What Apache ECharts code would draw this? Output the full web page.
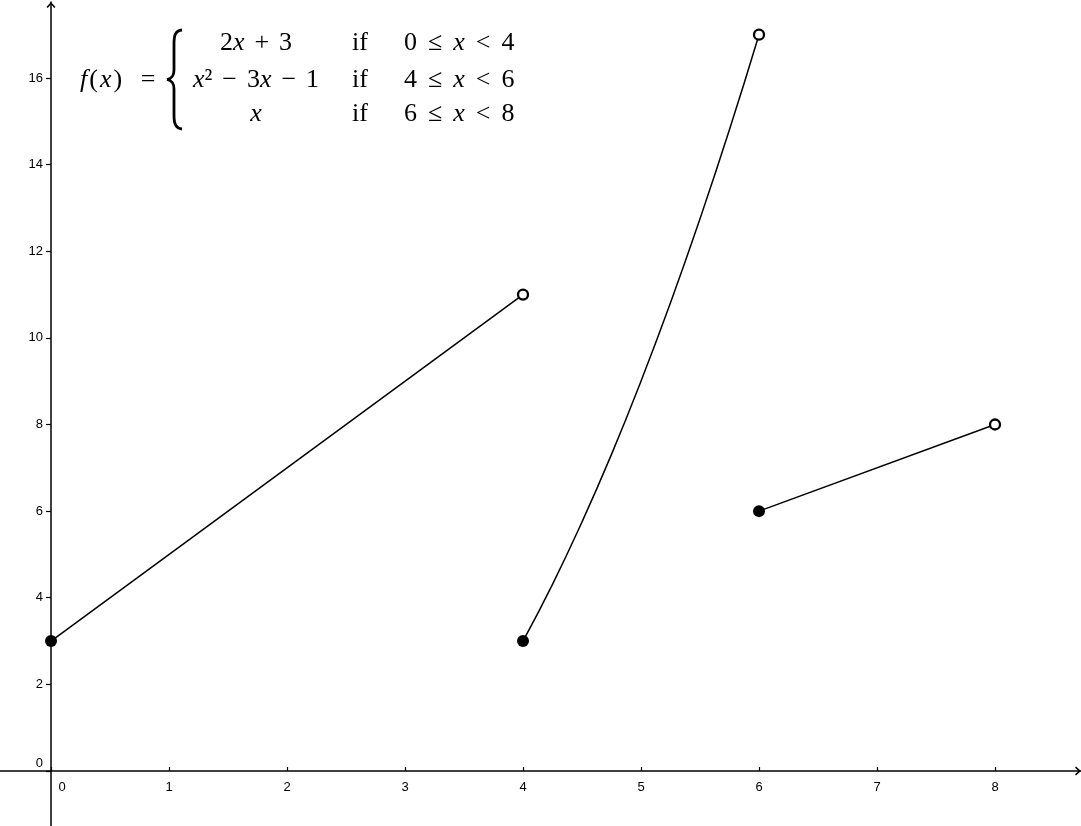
<!DOCTYPE html>
<html>
<head>
<meta charset="utf-8">
<script src="https://cdn.jsdelivr.net/npm/echarts@6/dist/echarts.min.js"></script>
<style>
html,body{margin:0;padding:0;background:#fff;}
#main{width:1081px;height:826px;}
</style>
</head>
<body>
<div id="main"></div>
<script>
// ---- data ----
const seg1X = [0, 4];
const seg1Y = [3, 11];
const curveX = [4, 4.25, 4.5, 4.75, 5, 5.25, 5.5, 5.75, 6];
const curveY = [3, 4.31, 5.75, 7.31, 9, 10.81, 12.75, 14.81, 17];
const seg3X = [6, 8];
const seg3Y = [6, 8];
const closedX = [0, 4, 6];
const closedY = [3, 3, 6];
const openX = [4, 6, 8];
const openY = [11, 17, 8];
const xTicks = [0, 1, 2, 3, 4, 5, 6, 7, 8];
const yTicks = [0, 2, 4, 6, 8, 10, 12, 14, 16];

const pairs = (xs, ys) => xs.map((x, i) => [x, ys[i]]);

const arrowPath = 'path://M0,5 L4.5,0 L9,5 L7.8,6 L4.5,2.3 L1.2,6 Z';
const sans = 'Liberation Sans';
const labelSize = 13;
const serif = 'Liberation Serif';
const fs = 26;
const rich = {
  i: { fontFamily: serif, fontStyle: 'italic', fontSize: fs, fill: '#000', color: '#000' },
  n: { fontFamily: serif, fontSize: fs, fill: '#000', color: '#000' },
  p: { fontFamily: serif, fontSize: fs, fill: '#000', color: '#000', padding: [0, 2, 0, 2] },
  b: { fontFamily: serif, fontSize: fs, fill: '#000', color: '#000', padding: [0, 10, 0, 10] },
  r: { fontFamily: serif, fontSize: fs, fill: '#000', color: '#000', padding: [0, 11, 0, 11] }
};
function tx(x, y, text, align) {
  return {
    type: 'text', x: x, y: y, z: 10,
    style: {
      text: text, rich: rich, fill: '#000',
      font: fs + 'px "' + serif + '"',
      align: align, verticalAlign: 'middle'
    }
  };
}
function lab(x, y, text, align, valign) {
  return {
    type: 'text', x: x, y: y, z: 10, silent: true,
    style: { text: text, fill: '#000', font: labelSize + 'px "' + sans + '"', align: align, verticalAlign: valign }
  };
}
const braceStyle = { fill: 'none', stroke: '#000', lineWidth: 2.8 };
function bz(x1, y1, cpx1, cpy1, cpx2, cpy2, x2, y2) {
  return { type: 'bezierCurve', z: 10, shape: { x1, y1, cpx1, cpy1, cpx2, cpy2, x2, y2 }, style: braceStyle };
}
function ln(x1, y1, x2, y2) {
  return { type: 'line', z: 10, shape: { x1, y1, x2, y2 }, style: braceStyle };
}

function render() {
  const chart = echarts.init(document.getElementById('main'));
  const axisCommon = {
    type: 'value',
    splitLine: { show: false },
    axisLine: { show: true, onZero: true, lineStyle: { color: '#000', width: 1.5 },
      symbol: ['none', arrowPath], symbolSize: [9, 6], symbolOffset: [0, -3] },
    axisLabel: { show: false }
  };
  const option = {
    animation: false,
    backgroundColor: '#fff',
    grid: { left: 0, right: 0, top: 2, bottom: 0, containLabel: false },
    xAxis: Object.assign({}, axisCommon, {
      min: -0.4322, max: 8.7288,
      axisTick: { show: true, inside: true, length: 4, lineStyle: { color: '#000', width: 1.2 },
        customValues: xTicks }
    }),
    yAxis: Object.assign({}, axisCommon, {
      min: -1.270, max: 17.755,
      axisTick: { show: true, inside: false, length: 5, lineStyle: { color: '#000', width: 1.2 },
        customValues: yTicks }
    }),
    series: [
      { type: 'line', data: pairs(seg1X, seg1Y), showSymbol: false, silent: true,
        lineStyle: { color: '#000', width: 1.5 } },
      { type: 'line', data: pairs(curveX, curveY), showSymbol: false, smooth: true, silent: true,
        lineStyle: { color: '#000', width: 1.5 } },
      { type: 'line', data: pairs(seg3X, seg3Y), showSymbol: false, silent: true,
        lineStyle: { color: '#000', width: 1.5 } },
      { type: 'scatter', data: pairs(closedX, closedY), symbol: 'circle', symbolSize: 12, z: 5,
        itemStyle: { color: '#000', opacity: 1 } },
      { type: 'scatter', data: pairs(openX, openY), symbol: 'circle', symbolSize: 10, z: 5,
        itemStyle: { color: '#fff', borderColor: '#000', borderWidth: 2.3, opacity: 1 } }
    ]
  };
  chart.setOption(option);

  const g = [
    tx(80, 80, '{i|f}{p|(}{i|x}{p|)}', 'left'),
    tx(148, 80, '{n|=}', 'center'),
    bz(182, 30, 175, 30.5, 174, 36, 174, 44),
    ln(174, 44, 174, 70),
    bz(174, 70, 174, 76, 172, 78.5, 167, 79.5),
    bz(167, 79.5, 172, 80.5, 174, 83, 174, 89),
    ln(174, 89, 174, 115),
    bz(174, 115, 174, 123, 175, 128, 182, 129),
    tx(256, 43, '{n|2}{i|x}{b|+}{n|3}', 'center'),
    tx(256, 80, '{i|x}{n|²}{b|−}{n|3}{i|x}{b|−}{n|1}', 'center'),
    tx(256, 114, '{i|x}', 'center'),
    tx(352, 43, '{n|if}', 'left'),
    tx(352, 80, '{n|if}', 'left'),
    tx(352, 114, '{n|if}', 'left'),
    tx(404, 43, '{n|0}{r|≤}{i|x}{r|<}{n|4}', 'left'),
    tx(404, 80, '{n|4}{r|≤}{i|x}{r|<}{n|6}', 'left'),
    tx(404, 114, '{n|6}{r|≤}{i|x}{r|<}{n|8}', 'left')
  ];
  // tick labels placed through the library's own scales
  xTicks.forEach(v => {
    const p = chart.convertToPixel({ gridIndex: 0 }, [v, 0]);
    g.push(lab(p[0] + (v === 0 ? 11 : 0), p[1] + 10, String(v), 'center', 'top'));
  });
  yTicks.forEach(v => {
    const p = chart.convertToPixel({ gridIndex: 0 }, [0, v]);
    g.push(lab(p[0] - 8, p[1] - (v === 0 ? 8 : 0), String(v), 'right', 'middle'));
  });
  chart.setOption({ graphic: g });
}

let done = false;
function go() { if (!done) { done = true; render(); } }
if (document.fonts && document.fonts.load) {
  Promise.all([
    document.fonts.load('26px "Liberation Serif"'),
    document.fonts.load('italic 26px "Liberation Serif"'),
    document.fonts.load('13px "Liberation Sans"')
  ]).then(go, go);
  setTimeout(go, 300);
} else {
  go();
}
</script>
</body>
</html>
